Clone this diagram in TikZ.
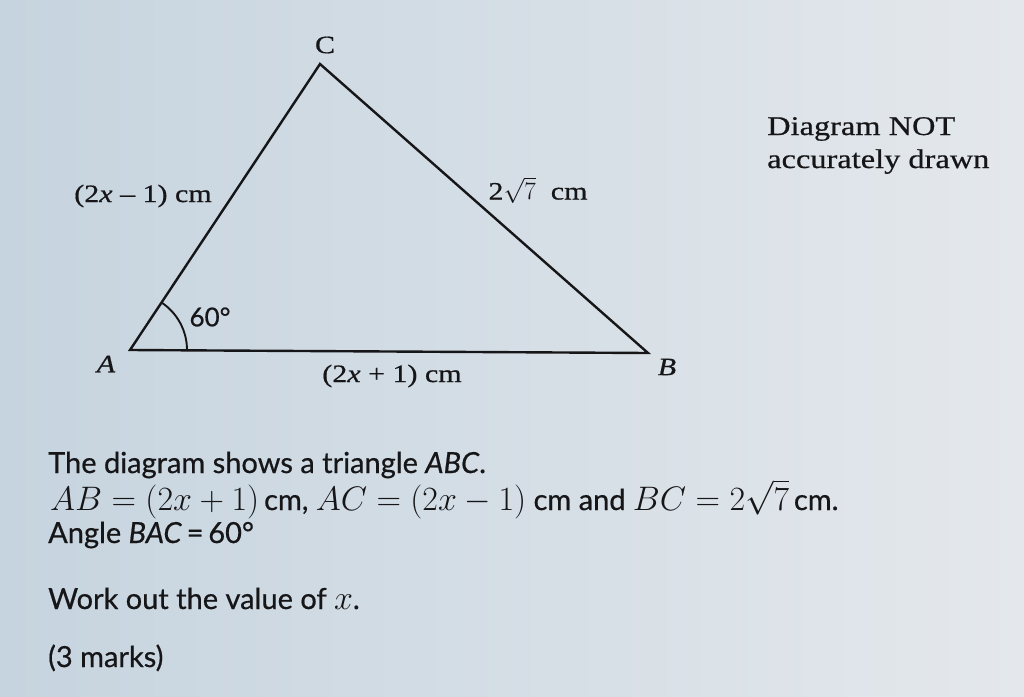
\RequirePackage{fix-cm}
\documentclass[tikz,border=0pt]{standalone}
\usepackage{fontspec}
\setsansfont{Lato}
\newfontfamily\tms[FakeStretch=1.2,FakeBold=0.6]{Liberation Serif}
\newfontfamily\lat[FakeBold=0.6]{Lato}
\usetikzlibrary{calc}
\definecolor{bgl}{RGB}{198,212,223}
\definecolor{bgr}{RGB}{228,232,236}
\definecolor{ink}{RGB}{22,22,24}
\newcommand{\bm}[1]{{\fontsize{34}{38}\selectfont$#1$}}
\begin{document}
\begin{tikzpicture}[x=1pt,y=-1pt,
  side/.style={draw=ink,line width=2.4pt,line join=miter},
  tlab/.style={text=ink,inner sep=0pt,font=\tms\fontsize{25}{28}\selectfont},
  body/.style={text=ink,inner sep=0pt,anchor=base west,font=\lat\fontsize{29}{34}\selectfont}]
\shade[left color=bgl,right color=bgr] (0,0) rectangle (1024,696);
\useasboundingbox (0,0) rectangle (1024,696);
% vertices
\coordinate (A) at (130,350);
\coordinate (B) at (648,353);
\coordinate (C) at (320,64);
\draw[side] (A) -- (B) -- (C) -- cycle;
\draw[draw=ink,line width=1.9pt] ($(A)+(57,0)$) arc[start angle=0,end angle=-56.4,radius=57];
% vertex labels
\node[tlab] (lC) at (325,45) {C};
\node[tlab] (lA) at (106,364) {\itshape A};
\node[tlab] (lB) at (667,367) {\itshape B};
\node[text=ink,inner sep=0pt,font=\lat\fontsize{26}{28}\selectfont] (ang) at (210,317) {60°};
% side labels
\node[tlab] (lAC) at (143,196) {(2\textit{x} – 1) cm};
\node[tlab] (lBC) at (538,190) {2$\sqrt{\mathrm{7}}$\ \ cm};
\node[tlab] (lAB) at (392,376) {(2\textit{x} + 1) cm};
% note
\node[tlab,anchor=base west,font=\tms\fontsize{27}{30}\selectfont] (n1) at (767,135) {Diagram NOT};
\node[tlab,anchor=base west,font=\tms\fontsize{27}{30}\selectfont] (n2) at (767,168) {accurately drawn};
% body text
\node[body] (t1) at (48,473) {The diagram shows a triangle \textit{ABC}.};
\node[body] (t2) at (50,510) {\bm{AB = (2x+1)}\,cm,\ \bm{AC=(2x-1)}\ cm\ and\ \bm{BC=2\sqrt{7}}\,cm.};
\node[body] (t3) at (48,543) {Angle \textit{BAC}\,=\,60°};
\node[body] (t4) at (48,609) {Work out the value of \bm{x}.};
\node[body] (t5) at (48,667) {(3 marks)};
\end{tikzpicture}
\end{document}
